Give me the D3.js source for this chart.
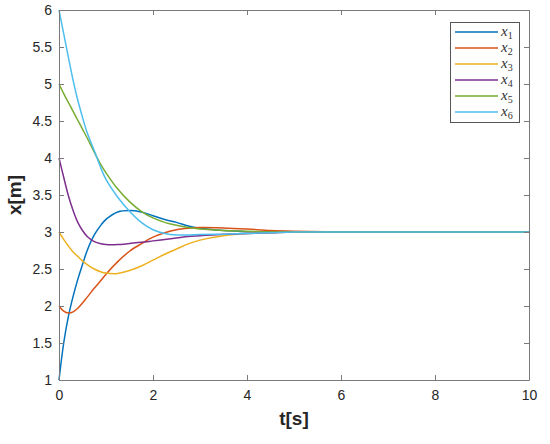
<!DOCTYPE html>
<html>
<head>
<meta charset="utf-8">
<script src="https://cdn.jsdelivr.net/npm/d3@7"></script>
<style>
body { margin: 0; background: #fff; }
svg text { font-family: Arial, "Liberation Sans", Helvetica, sans-serif; }
</style>
</head>
<body>
<svg id="chart" width="550" height="444"></svg>
<script>
const time = [0, 0.1, 0.2, 0.3, 0.4, 0.5, 0.6, 0.75, 0.9, 1.0, 1.25, 1.5, 1.75, 2.0, 2.25, 2.5, 2.75, 3.0, 3.5, 4.0, 4.5, 5.0, 6.0, 8.0, 10.0];
const x1 = [1.0, 1.5, 1.86, 2.13, 2.36, 2.56, 2.75, 2.96, 3.1, 3.17, 3.27, 3.29, 3.27, 3.22, 3.17, 3.13, 3.08, 3.05, 3.02, 3.005, 3.0, 3.0, 3.0, 3.0, 3.0];
const x2 = [2.0, 1.93, 1.905, 1.92, 1.97, 2.04, 2.12, 2.24, 2.35, 2.43, 2.6, 2.74, 2.84, 2.93, 2.99, 3.03, 3.05, 3.06, 3.055, 3.04, 3.02, 3.01, 3.0, 3.0, 3.0];
const x3 = [3.0, 2.9, 2.81, 2.73, 2.67, 2.61, 2.56, 2.5, 2.46, 2.445, 2.44, 2.48, 2.54, 2.62, 2.70, 2.77, 2.84, 2.89, 2.95, 2.98, 2.99, 3.0, 3.0, 3.0, 3.0];
const x4 = [4.0, 3.74, 3.49, 3.29, 3.13, 3.02, 2.94, 2.87, 2.84, 2.83, 2.83, 2.845, 2.86, 2.88, 2.9, 2.92, 2.94, 2.95, 2.97, 2.98, 2.99, 3.0, 3.0, 3.0, 3.0];
const x5 = [5.0, 4.87, 4.75, 4.63, 4.51, 4.39, 4.27, 4.08, 3.9, 3.8, 3.58, 3.41, 3.28, 3.19, 3.13, 3.09, 3.06, 3.04, 3.02, 3.01, 3.0, 3.0, 3.0, 3.0, 3.0];
const x6 = [6.0, 5.68, 5.36, 5.05, 4.78, 4.55, 4.34, 4.10, 3.85, 3.71, 3.47, 3.28, 3.13, 3.03, 2.98, 2.96, 2.96, 2.965, 2.97, 2.98, 2.99, 3.0, 3.0, 3.0, 3.0];
const seriesNames = ['1', '2', '3', '4', '5', '6'];
const colors = ['#0072BD', '#D95319', '#EDB120', '#7E2F8E', '#77AC30', '#4DBEEE'];
const xTicks = [0, 2, 4, 6, 8, 10];
const yTicks = [1, 1.5, 2, 2.5, 3, 3.5, 4, 4.5, 5, 5.5, 6];

const series = [x1, x2, x3, x4, x5, x6];
const svg = d3.select('#chart');
const mLeft = 59, mRight = 529, mTop = 10, mBottom = 380;
const x = d3.scaleLinear().domain([0, 10]).range([mLeft, mRight]);
const y = d3.scaleLinear().domain([1, 6]).range([mBottom, mTop]);
const axisColor = '#7a7a7a';

const line = d3.line()
    .x((d, i) => x(time[i]))
    .y(d => y(d))
    .curve(d3.curveCatmullRom.alpha(0.5));

svg.append('g').selectAll('path').data(series).join('path')
    .attr('d', line)
    .attr('fill', 'none')
    .attr('stroke', (d, i) => colors[i])
    .attr('stroke-width', 1.5);

// axes, MATLAB style: ticks inside, box on
const styleAxis = g => {
    g.select('.domain').attr('stroke', axisColor);
    g.selectAll('.tick line').attr('stroke', axisColor);
    g.selectAll('.tick text').attr('fill', '#262626').attr('font-size', 14);
};
svg.append('g').attr('transform', `translate(0,${mBottom})`)
    .call(d3.axisBottom(x).tickValues(xTicks).tickSize(-5).tickSizeOuter(0).tickPadding(10).tickFormat(d3.format('d')))
    .call(styleAxis);
svg.append('g').attr('transform', `translate(0,${mTop})`)
    .call(d3.axisTop(x).tickValues(xTicks).tickSize(-5).tickSizeOuter(0).tickFormat(''))
    .call(styleAxis);
svg.append('g').attr('transform', `translate(${mLeft},0)`)
    .call(d3.axisLeft(y).tickValues(yTicks).tickSize(-5).tickSizeOuter(0).tickPadding(7).tickFormat(d => d))
    .call(styleAxis);
svg.append('g').attr('transform', `translate(${mRight},0)`)
    .call(d3.axisRight(y).tickValues(yTicks).tickSize(-5).tickSizeOuter(0).tickFormat(''))
    .call(styleAxis);

svg.append('text')
    .attr('x', (mLeft + mRight) / 2).attr('y', 425)
    .attr('text-anchor', 'middle')
    .attr('font-size', 19).attr('font-weight', 'bold').attr('fill', '#262626')
    .text('t[s]');
svg.append('text')
    .attr('transform', `translate(21,${(mTop + mBottom) / 2}) rotate(-90)`)
    .attr('text-anchor', 'middle')
    .attr('font-size', 19).attr('font-weight', 'bold').attr('fill', '#262626')
    .text('x[m]');

// legend
const lg = svg.append('g');
lg.append('rect')
    .attr('x', 450.5).attr('y', 22.5).attr('width', 69).attr('height', 100)
    .attr('fill', '#fff').attr('stroke', '#555').attr('stroke-width', 1);
const rows = lg.selectAll('g.row').data(seriesNames).join('g')
    .attr('class', 'row')
    .attr('transform', (d, i) => `translate(0,${32 + i * 16})`);
rows.append('line')
    .attr('x1', 455).attr('x2', 498)
    .attr('stroke', (d, i) => colors[i]).attr('stroke-width', 1.5);
const lt = rows.append('text')
    .attr('x', 501).attr('y', 4)
    .style('font-family', '"Liberation Serif", "DejaVu Serif", serif')
    .attr('fill', '#333');
lt.append('tspan').attr('font-style', 'italic').attr('font-size', 15).text('x');
lt.append('tspan').attr('font-size', 10).attr('dy', 3).text(d => d);
</script>
</body>
</html>
